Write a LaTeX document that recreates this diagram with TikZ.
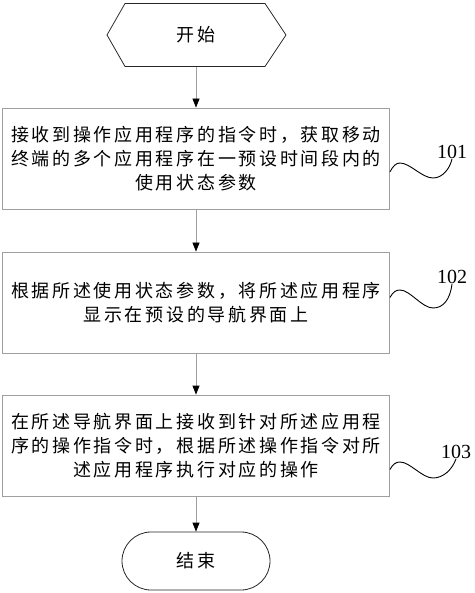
\documentclass[tikz,border=0pt]{standalone}
\usepackage{fontspec}
\setmainfont{Liberation Serif}
\newfontfamily\cjk{Noto Sans CJK SC}[LetterSpace=15]
\usetikzlibrary{arrows.meta}

\tikzset{
  stepbox/.style={draw=gray!75, line width=0.8pt, minimum width=387pt, minimum height=101pt, align=center, font=\cjk\fontsize{18pt}{24pt}\selectfont},
  endbox/.style={draw=gray!30!black, line width=0.8pt, font=\cjk\fontsize{18pt}{24pt}\selectfont},
  flow/.style={draw=gray!75, line width=0.8pt, -{Triangle[length=9pt,width=7pt,color=black]}},
  wave/.style={line width=0.9pt},
  tag/.style={inner sep=0pt, font=\fontsize{20pt}{20pt}\selectfont}
}

\begin{document}
\begin{tikzpicture}[x=1pt,y=-1pt]
\useasboundingbox (0,0) rectangle (474,593);
% start
\draw[gray!30!black, line width=0.8pt] (107,35) -- (125,3.5) -- (265,3.5) -- (286,35) -- (265,66.5) -- (125,66.5) -- cycle;
\node[endbox, draw=none, minimum height=63pt] (start) at (196,35) {开始};

% steps
\node[stepbox] (s101) at (196,158.5) {接收到操作应用程序的指令时，获取移动\\终端的多个应用程序在一预设时间段内的\\使用状态参数};
\node[stepbox] (s102) at (196,302.5) {根据所述使用状态参数，将所述应用程序\\显示在预设的导航界面上};
\node[stepbox] (s103) at (196,445.5) {在所述导航界面上接收到针对所述应用程\\序的操作指令时，根据所述操作指令对所\\述应用程序执行对应的操作};
\node[endbox, rounded corners=29pt, minimum width=148pt, minimum height=58pt] (stop) at (196,561) {结束};

\draw[flow] (start.south) -- (s101.north);
\draw[flow] (s101.south) -- (s102.north);
\draw[flow] (s102.south) -- (s103.north);
\draw[flow] (s103.south) -- (stop.north);

% labels
\node[tag] (t101) at (452,152) {101};
\node[tag] (t102) at (452,277) {102};
\node[tag] (t103) at (456,452) {103};
\draw[wave] ([yshift=-13.5pt]s101.east) .. controls (393,166) and (396,163) .. (400,163) .. controls (410,163) and (422,178) .. (433,178) .. controls (443,178) and (450,168) .. (t101.south);
\draw[wave] ([yshift=5pt]s102.east) .. controls (393,292) and (396,290) .. (400,290) .. controls (410,290) and (422,308) .. (433,308) .. controls (443,308) and (450,300) .. (t102.south);
\draw[wave] ([yshift=-24pt]s103.east) .. controls (393,464) and (396,462) .. (400,462) .. controls (410,462) and (422,478) .. (433,478) .. controls (443,478) and (452,470) .. (t103.south);
\end{tikzpicture}
\end{document}
